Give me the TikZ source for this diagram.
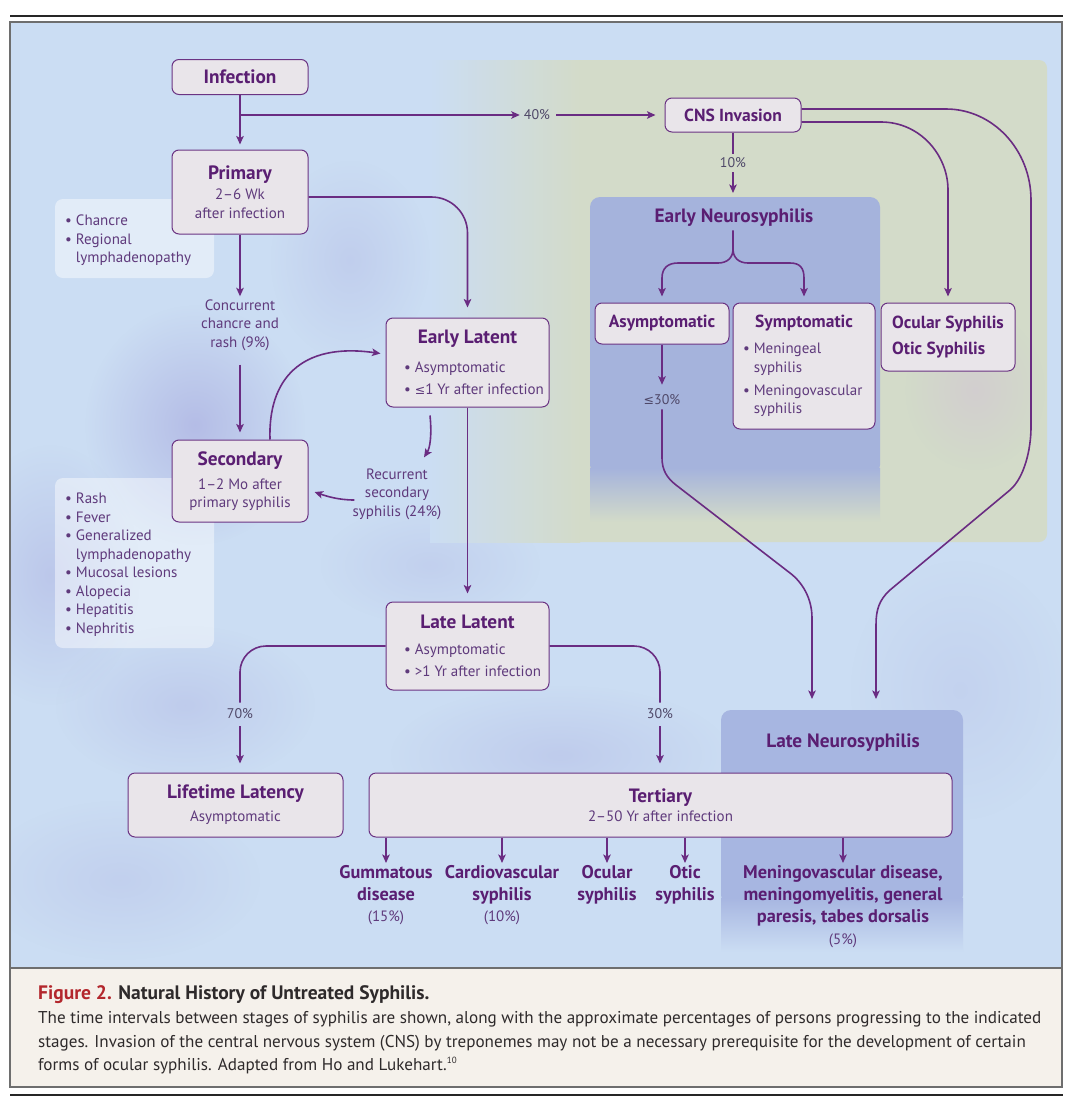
\documentclass[tikz,border=0pt]{standalone}
\usepackage{fontspec}
\setmainfont{PT Sans}
\newfontfamily\symf{DejaVu Sans}
\usetikzlibrary{arrows.meta,calc,fadings}
\definecolor{bgc}{HTML}{CBDDF3}
\definecolor{blobc}{HTML}{ADB2E2}
\definecolor{pinkc}{HTML}{D2C9D2}
\definecolor{grc}{HTML}{D3DBC9}
\definecolor{enc}{HTML}{A5B3DC}
\definecolor{lnc}{HTML}{A7B6E1}
\definecolor{boxf}{HTML}{E9E5EA}
\definecolor{bord}{HTML}{6B3383}
\definecolor{glow}{HTML}{D9BDE0}
\definecolor{arc}{HTML}{6A2C82}
\definecolor{ttc}{HTML}{5A1E72}
\definecolor{bdc}{HTML}{5F3A7C}
\definecolor{pctc}{HTML}{4F4868}
\definecolor{capc}{HTML}{F5F1EB}
\definecolor{framec}{HTML}{6E6E6E}
\definecolor{figred}{HTML}{B3272D}
\definecolor{captxt}{HTML}{2E2A2B}
\newcommand\bodyf{\fontsize{15}{18.5}\selectfont}
\newcommand\ttlf{\fontsize{19.3}{18.5}\selectfont\bfseries}
\newcommand\ttls{\fontsize{17.5}{18.5}\selectfont\bfseries}
\newcommand\outf{\fontsize{18.3}{18.5}\selectfont\bfseries}
\newcommand\leqs{{\symf\fontsize{12.5}{12}\selectfont ≤}}
\tikzfading[name=fuzzy, inner color=transparent!0, outer color=transparent!100]
\tikzset{
  stage/.style={draw=bord, line width=1pt, fill=boxf, rounded corners=7pt, inner sep=0pt,
    align=center, text=bdc, font=\bodyf,
    append after command={\pgfextra{\draw[glow, line width=1.6pt, rounded corners=5pt]
      ($(\tikzlastnode.south west)+(1.9,-1.9)$) rectangle ($(\tikzlastnode.north east)+(-1.9,1.9)$);}}},
  arr/.style={draw=arc, line width=1.6pt, -{Stealth[length=8.5pt,width=7.5pt,inset=2pt]}},
  ln/.style={draw=arc, line width=1.6pt},
  pct/.style={text=pctc, font=\fontsize{14}{16}\selectfont, inner sep=4pt},
  lbl/.style={text=bdc, font=\bodyf, align=center, inner sep=0pt},
  outc/.style={text=ttc, font=\outf, align=center, inner sep=0pt, anchor=north},
  listt/.style={text=bdc, font=\bodyf, align=left, inner sep=0pt, anchor=north west},
  capl/.style={anchor=base west, inner sep=0pt, text=captxt, font=\fontsize{17.1}{20}\selectfont},
}
\begin{document}
\begin{tikzpicture}[x=1pt,y=-1pt]
\useasboundingbox (0,0) rectangle (1080,1114);
\fill[white] (0,0) rectangle (1080,1114);
% rules
\draw[line width=1.3pt, black!85] (10,16) -- (1063,16);
\draw[line width=1.3pt, black!85] (10,1095) -- (1063,1095);
% frame background
\fill[bgc] (10,22) rectangle (1062,968);
\begin{scope}
\clip (10,22) rectangle (1062,968);
\fill[blobc, path fading=fuzzy, fill opacity=0.75] (195,425) ellipse (110 and 120);
\fill[blobc, path fading=fuzzy, fill opacity=0.5] (50,575) ellipse (90 and 130);
\fill[blobc, path fading=fuzzy, fill opacity=0.35] (350,260) ellipse (80 and 100);
\fill[blobc, path fading=fuzzy, fill opacity=0.4] (185,705) ellipse (130 and 80);
\fill[blobc, path fading=fuzzy, fill opacity=0.4] (560,755) ellipse (170 and 70);
\fill[blobc, path fading=fuzzy, fill opacity=0.3] (430,565) ellipse (110 and 60);
\fill[blobc, path fading=fuzzy, fill opacity=0.25] (960,690) ellipse (110 and 130);
\fill[blobc, path fading=fuzzy, fill opacity=0.3] (120,880) ellipse (140 and 80);
\end{scope}
% CNS region (green)
\fill[grc, rounded corners=8pt] (560,60) rectangle (1047,542);
\shade[left color=bgc, right color=grc] (430,60) rectangle (580,542);
\fill[pinkc, path fading=fuzzy, fill opacity=0.7] (975,390) ellipse (70 and 80);
% Early neurosyphilis region
\fill[enc, rounded corners=10pt] (590,197) rectangle (880,475);
\shade[top color=enc, bottom color=grc] (590,468) rectangle (880,522);
\coordinate (entop) at (733,197);
% Late neurosyphilis region
\fill[lnc, rounded corners=10pt] (721,710) rectangle (963,905);
\shade[top color=lnc, bottom color=bgc] (721,898) rectangle (963,952);
\coordinate (lnl) at (812,699);
\coordinate (lnr) at (876,699);
% side lists
\fill[white, fill opacity=0.45, rounded corners=8pt] (55,199) rectangle (214,278);
\fill[white, fill opacity=0.45, rounded corners=8pt] (55,478) rectangle (214,648);
\node[listt] (prilist) at (65,215) {• Chancre\\• Regional\\\phantom{• }lymphadenopathy};
\node[listt] (seclist) at (65,493) {• Rash\\• Fever\\• Generalized\\\phantom{• }lymphadenopathy\\• Mucosal lesions\\• Alopecia\\• Hepatitis\\• Nephritis};
% stage boxes
\node[stage, minimum width=136, minimum height=35] (inf) at (240,77) {\textcolor{ttc}{\ttlf Infection}};
\node[stage, minimum width=136, minimum height=84] (prim) at (240,192) {{\color{ttc}\ttlf Primary}\\[1.5pt] 2–6 Wk\\ after infection};
\node[stage, minimum width=136, minimum height=82] (sec) at (240,481) {{\color{ttc}\ttlf Secondary}\\[5.5pt] 1–2 Mo after\\ primary syphilis};
\node[stage, minimum width=163, minimum height=89] (el) at (467.5,362.5) {{\color{ttc}\ttlf Early Latent}\\[10pt] \makebox[127pt][l]{• Asymptomatic}\\[3.5pt] \makebox[127pt][l]{• \leqs1 Yr after infection}};
\node[stage, minimum width=163, minimum height=88] (ll) at (467.5,646) {{\color{ttc}\ttlf Late Latent}\\[8pt] \makebox[127pt][l]{• Asymptomatic}\\[3.5pt] \makebox[127pt][l]{• >1 Yr after infection}};
\node[stage, minimum width=215, minimum height=64] (lt) at (235.5,805) {{\color{ttc}\ttlf Lifetime Latency}\\[4.5pt] Asymptomatic};
\node[stage, minimum width=583, minimum height=64] (ter) at (660.5,805) {{\color{ttc}\ttlf Tertiary}\\ 2–50 Yr after infection};
\node[stage, minimum width=136, minimum height=34] (cns) at (733,115) {\textcolor{ttc}{\ttls CNS Invasion}};
\node[stage, minimum width=134, minimum height=41] (asym) at (662,323.5) {\textcolor{ttc}{\ttls Asymptomatic}};
\node[stage, minimum width=142, minimum height=126] (sym) at (804,366) {{\color{ttc}\ttls Symptomatic}\\[7.5pt] \makebox[122pt][l]{• Meningeal}\\ \makebox[122pt][l]{\phantom{• }syphilis}\\[4.5pt] \makebox[122pt][l]{• Meningovascular}\\ \makebox[122pt][l]{\phantom{• }syphilis}};
\node[stage, minimum width=134, minimum height=68, align=left, text=ttc] (ocu) at (948,337) {{\ttls Ocular Syphilis}\\[7.5pt]{\ttls Otic Syphilis}};
% region titles
\node[text=ttc, font=\ttlf] (entitle) at (734,218) {Early Neurosyphilis};
\node[text=ttc, font=\ttlf] (lntitle) at (843,743) {Late Neurosyphilis};
% labels
\node[lbl] (conc) at (240,325) {Concurrent\\chancre and\\rash (9\%)};
\node[lbl] (recur) at (397,494) {Recurrent\\secondary\\syphilis (24\%)};
\node[pct] (p40) at (537,115) {40\%};
\node[pct] (p10) at (733,163) {10\%};
\node[pct] (p30le) at (662,400) {\leqs30\%};
\node[pct] (p70) at (240,714) {70\%};
\node[pct] (p30) at (660,714) {30\%};
% tertiary outcomes
\node[outc] (gum) at (386,865) {Gummatous\\[3.5pt]disease\\[2.5pt]{\bodyf\mdseries\color{bdc}(15\%)}};
\node[outc] (card) at (502,865) {Cardiovascular\\[3.5pt]syphilis\\[2.5pt]{\bodyf\mdseries\color{bdc}(10\%)}};
\node[outc] (ocl) at (607,865) {Ocular\\[3.5pt]syphilis};
\node[outc] (otc) at (685,865) {Otic\\[3.5pt]syphilis};
\node[outc] (men) at (843,865) {Meningovascular disease,\\[3.5pt]meningomyelitis, general\\[3.5pt]paresis, tabes dorsalis\\[3.5pt]{\bodyf\mdseries\color{bdc}(5\%)}};
% connectors
\coordinate (br) at (240,115);
\draw[arr, shorten >=5pt] (inf.south) -- (prim.north);
\draw[arr] (br) -- (p40.west);
\draw[arr, shorten <=2pt, shorten >=9pt] (p40.east) -- (cns.west);
\draw[arr, shorten >=3pt] (prim.south) -- (conc.north);
\draw[arr, shorten <=14pt, shorten >=7pt] (conc.south) -- (sec.north);
\draw[arr, rounded corners=36pt, shorten >=10pt] ($(prim.east)+(0,5)$) -- (467.5,197) -- (el.north);
\draw[arr] ($(sec.north)+(30,0)$) .. controls (268,380) and (300,342) .. ($(el.west)+(-5,-9)$);
\draw[arr] ($(el.south)+(-37.5,8)$) .. controls (432,435) and (430,448) .. ($(recur.north)+(27,-11)$);
\draw[arr] ($(recur.west)+(2,6)$) .. controls (338,500) and (326,496) .. ($(sec.east)+(6,11)$);
\draw[arr, shorten >=8pt] (el.south) -- (ll.north);
\draw[ln, rounded corners=26pt, shorten >=2pt] (ll.west) -- (240,646) -- (p70.north);
\draw[ln, rounded corners=26pt, shorten >=2pt] (ll.east) -- (660,646) -- (p30.north);
\draw[arr, shorten <=3pt, shorten >=9pt] (p70.south) -- (p70.south |- lt.north);
\draw[arr, shorten <=3pt, shorten >=9pt] (p30.south) -- (p30.south |- ter.north);
\draw[ln] (cns.south) -- (p10.north);
\draw[arr, shorten >=4pt] (p10.south) -- (entop);
\draw[arr, shorten >=6pt] (entitle.south -| entop) -- (733,249) .. controls (733,258) and (727,263) .. (718,263) -- (678,263) .. controls (668,263) and (662,268) .. (662,278) -- (asym.north);
\draw[arr, shorten >=6pt] (733,249) .. controls (733,258) and (739,263) .. (748,263) -- (790,263) .. controls (800,263) and (804,268) .. (804,278) -- (sym.north);
\draw[arr, shorten >=6pt] (asym.south) -- (p30le.north);
\draw[arr] (p30le.south) -- (662,458) .. controls (662,470) and (667,478) .. (676,485) -- (790,573) .. controls (802,582) and (812,598) .. (812,618) -- (lnl);
\draw[arr] ($(cns.east)+(0,-6)$) -- (946,109) .. controls (993,109) and (1031,150) .. (1031,200) -- (1031,427) .. controls (1031,450) and (1024,478) .. (1010,490) -- (890,590) .. controls (879,600) and (876,610) .. (876,625) -- (lnr);
\draw[arr, shorten >=6pt] ($(cns.east)+(0,7)$) -- (881,122) .. controls (920,122) and (948,155) .. (948,190) -- (ocu.north);
\draw[arr, shorten >=2pt] (gum.north |- ter.south) -- (gum.north);
\draw[arr, shorten >=2pt] (card.north |- ter.south) -- (card.north);
\draw[arr, shorten >=2pt] (ocl.north |- ter.south) -- (ocl.north);
\draw[arr, shorten >=2pt] (otc.north |- ter.south) -- (otc.north);
\draw[arr, shorten >=2pt] (men.north |- ter.south) -- (men.north);
% caption
\fill[capc] (10,968) rectangle (1062,1087);
\draw[framec, line width=2pt] (10,22) rectangle (1062,1087);
\draw[framec, line width=2pt] (10,968) -- (1062,968);
\node[capl, font=\fontsize{19.5}{20}\selectfont\bfseries] (capt) at (38,999) {\textcolor{figred}{Figure 2.} Natural History of Untreated Syphilis.};
\node[capl] (cap1) at (38,1023) {The time intervals between stages of syphilis are shown, along with the approximate percentages of persons progressing to the indicated};
\node[capl] (cap2) at (38,1047) {stages. Invasion of the central nervous system (CNS) by treponemes may not be a necessary prerequisite for the development of certain};
\node[capl] (cap3) at (38,1070) {forms of ocular syphilis. Adapted from Ho and Lukehart.\textsuperscript{\fontsize{9}{9}\selectfont 10}};
\end{tikzpicture}
\end{document}
